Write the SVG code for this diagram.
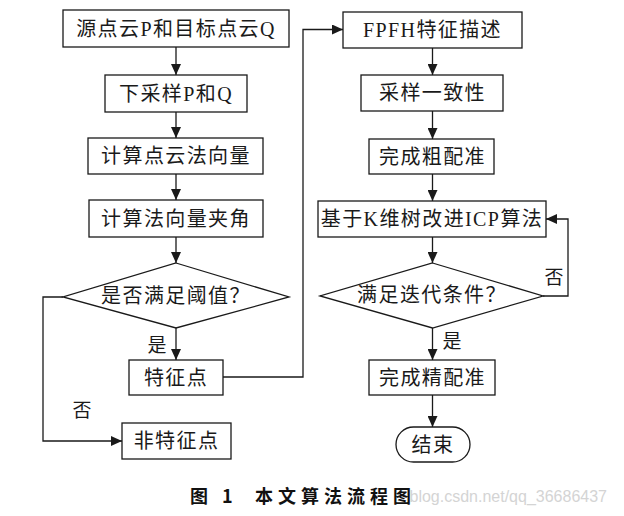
<svg xmlns="http://www.w3.org/2000/svg" width="624" height="516" viewBox="0 0 624 516">
<defs>
<marker id="arr" markerUnits="userSpaceOnUse" markerWidth="12" markerHeight="10" refX="11" refY="5" orient="auto">
<path d="M0,0 L11,5 L0,10 Z" fill="#1a1a1a"/>
</marker>
<style>
.box{fill:#fff;stroke:#1a1a1a;stroke-width:1.3}
.t{font-family:"Liberation Serif","Noto Sans CJK SC",serif;font-size:20px;fill:#1a1a1a;text-anchor:middle;dominant-baseline:central;letter-spacing:1.4px}
.lbl{font-family:"Liberation Serif","Noto Sans CJK SC",serif;font-size:19px;fill:#1a1a1a;text-anchor:middle;dominant-baseline:central}
.c{fill:none;stroke:#1a1a1a;stroke-width:1.3}
.cap{font-family:"Noto Sans CJK SC",sans-serif;font-size:18px;font-weight:bold;fill:#111;letter-spacing:5px}
.wm{font-family:"Liberation Sans",Arial,sans-serif;font-size:16px;fill:#d4d4d4;text-anchor:end}
</style>
</defs>
<rect width="624" height="516" fill="#fff"/>
<g id="connectors">
<line class="c" x1="176" y1="47" x2="176" y2="75" marker-end="url(#arr)"/>
<line class="c" x1="176" y1="112" x2="176" y2="138" marker-end="url(#arr)"/>
<line class="c" x1="176" y1="174" x2="176" y2="200" marker-end="url(#arr)"/>
<line class="c" x1="176" y1="237" x2="176" y2="263" marker-end="url(#arr)"/>
<line class="c" x1="176" y1="328" x2="176" y2="360" marker-end="url(#arr)"/>
<polyline class="c" points="63,297 43,297 43,441 122,441" marker-end="url(#arr)"/>
<polyline class="c" points="223,377 303,377 303,29.5 343,29.5" marker-end="url(#arr)"/>
<line class="c" x1="432.5" y1="48" x2="432.5" y2="75" marker-end="url(#arr)"/>
<line class="c" x1="432.5" y1="111" x2="432.5" y2="139" marker-end="url(#arr)"/>
<line class="c" x1="432.5" y1="174" x2="432.5" y2="201" marker-end="url(#arr)"/>
<line class="c" x1="432.5" y1="237" x2="432.5" y2="263" marker-end="url(#arr)"/>
<line class="c" x1="432.5" y1="328" x2="432.5" y2="360" marker-end="url(#arr)"/>
<line class="c" x1="432.5" y1="395" x2="432.5" y2="427" marker-end="url(#arr)"/>
<polyline class="c" points="543,296 568,296 568,219 546,219" marker-end="url(#arr)"/>
<text class="lbl" x="157" y="345">是</text>
<text class="lbl" x="82" y="410">否</text>
<text class="lbl" x="452" y="341">是</text>
<text class="lbl" x="554" y="277">否</text>
</g>
<g id="n1"><rect class="box" x="63" y="10" width="226" height="37"/><text class="t" x="176" y="28.5">源点云P和目标点云Q</text></g>
<g id="n2"><rect class="box" x="105" y="75" width="142" height="37"/><text class="t" x="176" y="93.5">下采样P和Q</text></g>
<g id="n3"><rect class="box" x="88" y="138" width="175" height="36"/><text class="t" x="176" y="156">计算点云法向量</text></g>
<g id="n4"><rect class="box" x="89" y="200" width="174" height="37"/><text class="t" x="176" y="218.5">计算法向量夹角</text></g>
<g id="n5"><polygon class="box" points="176,263 289,297 176,328 63,297"/><text class="t" x="176" y="296">是否满足阈值？</text></g>
<g id="n6"><rect class="box" x="129" y="360" width="94" height="35"/><text class="t" x="176" y="377.5">特征点</text></g>
<g id="n7"><rect class="box" x="122" y="423" width="109" height="36"/><text class="t" x="176.5" y="441">非特征点</text></g>
<g id="n8"><rect class="box" x="343" y="12" width="179" height="36"/><text class="t" x="432.5" y="30">FPFH特征描述</text></g>
<g id="n9"><rect class="box" x="361" y="75" width="142" height="36"/><text class="t" x="432.5" y="93">采样一致性</text></g>
<g id="n10"><rect class="box" x="369" y="139" width="125" height="35"/><text class="t" x="432.5" y="156.5">完成粗配准</text></g>
<g id="n11"><rect class="box" x="318" y="201" width="228" height="36"/><text class="t" x="432" y="219">基于K维树改进ICP算法</text></g>
<g id="n12"><polygon class="box" points="432.5,263 543,296 432.5,328 320,296"/><text class="t" x="432" y="295">满足迭代条件？</text></g>
<g id="n13"><rect class="box" x="369" y="360" width="126" height="35"/><text class="t" x="432.5" y="377.5">完成精配准</text></g>
<g id="n14"><rect class="box" x="396" y="427" width="74" height="35" rx="17.5" ry="17.5"/><text class="t" x="433" y="444.5">结束</text></g>
<g id="caption">
<text class="cap" x="190" y="503">图 1</text>
<text class="cap" x="255" y="503">本文算法流程图</text>
<text class="wm" x="607" y="502">blog.csdn.net/qq_36686437</text>
</g>
</svg>
